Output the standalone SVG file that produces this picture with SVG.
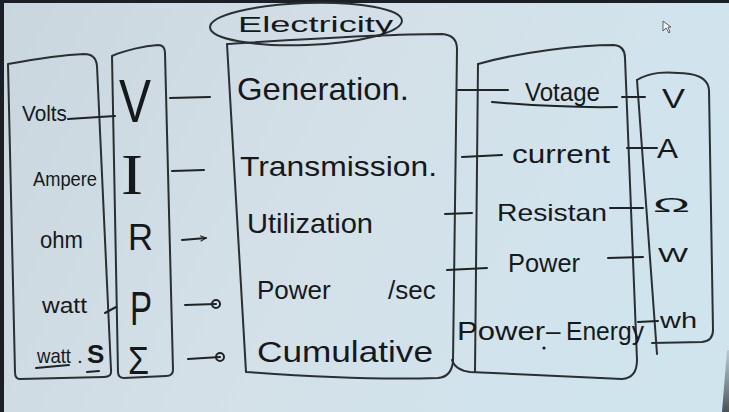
<svg xmlns="http://www.w3.org/2000/svg" width="729" height="412" viewBox="0 0 729 412">
  <defs>
    <linearGradient id="board" x1="0" y1="0" x2="1" y2="0.3">
      <stop offset="0" stop-color="#c9d6dd"/>
      <stop offset="0.5" stop-color="#d4e0e7"/>
      <stop offset="1" stop-color="#d0e4ee"/>
    </linearGradient>
    <linearGradient id="edge" x1="0" y1="0" x2="0" y2="1">
      <stop offset="0" stop-color="#5a6066" stop-opacity="0.2"/>
      <stop offset="1" stop-color="#3a4046" stop-opacity="0.9"/>
    </linearGradient>
    <marker id="arr" viewBox="0 0 10 10" refX="9" refY="5" markerWidth="7" markerHeight="7" orient="auto" markerUnits="userSpaceOnUse">
      <path d="M1,1 L9,5 L1,9" fill="none" stroke="#22272a" stroke-width="1.6"/>
    </marker>
    <style>
      .box { fill: none; stroke: #2a2f33; stroke-width: 2; stroke-linecap: round; stroke-linejoin: round; }
      .ln { fill: none; stroke: #1e2326; stroke-width: 2; stroke-linecap: round; }
      .t { font-family: "Liberation Sans", "DejaVu Sans", sans-serif; fill: #16191c; }
      .s { font-family: "Liberation Serif", "DejaVu Serif", serif; fill: #16191c; }
    </style>
  </defs>

  <rect x="0" y="0" width="729" height="412" fill="url(#board)"/>
  <rect x="0" y="0" width="729" height="3" fill="#1b2026"/>
  <rect x="0" y="0" width="4" height="412" fill="#1b2026"/>
  <polygon points="727,350 729,350 729,412 722,412" fill="url(#edge)"/>
  <path d="M663,21 L663,31 L666,28 L669,33 L670,32 L668,27 L671,27 Z" fill="#eef3f6" stroke="#3a3f44" stroke-width="0.8"/>

  <!-- Units box -->
  <g id="units">
    <path class="box" d="M8,64 C30,60 60,55 84,54 Q96,54 97,66 L111,370 Q112,377 104,377 L20,379 Q15,379 15,372 Z"/>
    <text class="t" x="22" y="121" font-size="22" textLength="45" lengthAdjust="spacingAndGlyphs">Volts</text>
    <text class="t" x="33" y="186" font-size="20" textLength="64" lengthAdjust="spacingAndGlyphs">Ampere</text>
    <text class="t" x="40" y="248" font-size="24" textLength="43" lengthAdjust="spacingAndGlyphs">ohm</text>
    <text class="t" x="42" y="313" font-size="22" textLength="45" lengthAdjust="spacingAndGlyphs">watt</text>
    <text class="t" x="37" y="363" font-size="21"><tspan textLength="34" lengthAdjust="spacingAndGlyphs">watt</tspan><tspan x="77">.</tspan><tspan x="87" font-size="26" font-weight="bold">S</tspan></text>
    <line class="ln" x1="36" y1="368" x2="69" y2="365"/>
    <line class="ln" x1="87" y1="372" x2="99" y2="371"/>
  </g>

  <!-- Symbols box -->
  <g id="symbols">
    <path class="box" d="M112,56 C125,50 145,46 158,45 Q165,45 165,53 L173,370 Q173,376 166,376 L124,378 Q118,378 118,372 Z"/>
    <text class="t" x="119" y="122" font-size="62" textLength="32" lengthAdjust="spacingAndGlyphs">V</text>
    <text class="s" x="121" y="194" font-size="56" textLength="22" lengthAdjust="spacingAndGlyphs">I</text>
    <text class="t" x="128" y="250" font-size="36" textLength="25" lengthAdjust="spacingAndGlyphs">R</text>
    <text class="t" x="130" y="325" font-size="48" textLength="22" lengthAdjust="spacingAndGlyphs">P</text>
    <text class="t" x="128" y="374" font-size="38" textLength="21" lengthAdjust="spacingAndGlyphs">Σ</text>
  </g>

  <!-- Title -->
  <g id="title">
    <ellipse class="box" cx="306" cy="24" rx="96" ry="21" transform="rotate(-2 306 24)"/>
    <text class="t" x="238" y="32" font-size="22" textLength="155" lengthAdjust="spacingAndGlyphs">Electricity</text>
  </g>

  <!-- Electricity box -->
  <g id="electricity">
    <path class="box" d="M227,44 C290,40 380,34 442,34 Q457,35 457,49 L453,362 Q451,377 438,378 C380,380 300,376 246,372 Z"/>
    <text class="t" x="237" y="100" font-size="32" textLength="172" lengthAdjust="spacingAndGlyphs">Generation.</text>
    <text class="t" x="240" y="176" font-size="28" textLength="197" lengthAdjust="spacingAndGlyphs">Transmission.</text>
    <text class="t" x="247" y="233" font-size="28" textLength="126" lengthAdjust="spacingAndGlyphs">Utilization</text>
    <text class="t" y="299" font-size="26"><tspan x="257">Power</tspan><tspan x="388">/sec</tspan></text>
    <text class="t" x="257" y="362" font-size="30" textLength="176" lengthAdjust="spacingAndGlyphs">Cumulative</text>
  </g>

  <!-- Quantities box -->
  <g id="quantities">
    <path class="box" d="M478,64 C520,52 580,45 614,45 Q625,46 625,58 L637,360 Q637,378 622,379 L470,372 Q455,370 452,360"/>
    <line class="box" x1="478" y1="64" x2="475" y2="372"/>
    <text class="t" x="525" y="101" font-size="26" textLength="75" lengthAdjust="spacingAndGlyphs">Votage</text>
    <path class="ln" d="M492,102 Q560,108 617,107"/>
    <text class="t" x="512" y="163" font-size="26" textLength="98" lengthAdjust="spacingAndGlyphs">current</text>
    <text class="t" x="497" y="221" font-size="24" textLength="110" lengthAdjust="spacingAndGlyphs">Resistan</text>
    <text class="t" x="508" y="272" font-size="26" textLength="72" lengthAdjust="spacingAndGlyphs">Power</text>
    <text class="t" y="340" font-size="26"><tspan x="457" textLength="88" lengthAdjust="spacingAndGlyphs">Power</tspan><tspan x="546">–</tspan><tspan x="566" textLength="78" lengthAdjust="spacingAndGlyphs">Energy</tspan></text>
    <circle cx="544" cy="348" r="1.6" fill="#16191c"/>
  </g>

  <!-- Unit symbols box -->
  <g id="unit-symbols">
    <path class="box" d="M637,80 C650,72 665,71 690,74 Q708,77 709,90 L713,330 Q713,341 702,342 L652,343"/>
    <line class="box" x1="637" y1="80" x2="657" y2="354"/>
    <text class="t" x="662" y="108" font-size="28" textLength="23" lengthAdjust="spacingAndGlyphs">V</text>
    <text class="t" x="657" y="158" font-size="28" textLength="21" lengthAdjust="spacingAndGlyphs">A</text>
    <text class="t" x="653" y="212" font-size="21" textLength="37" lengthAdjust="spacingAndGlyphs">Ω</text>
    <text class="t" x="658" y="262" font-size="21" textLength="30" lengthAdjust="spacingAndGlyphs">W</text>
    <text class="t" x="660" y="328" font-size="22" textLength="37" lengthAdjust="spacingAndGlyphs">wh</text>
  </g>

  <!-- Connectors -->
  <g id="connectors">
    <line class="ln" x1="68" y1="119" x2="115" y2="116"/>
    <line class="ln" x1="105" y1="313" x2="116" y2="307"/>
    <line class="ln" x1="170" y1="98" x2="210" y2="97"/>
    <line class="ln" x1="172" y1="171" x2="204" y2="170"/>
    <line class="ln" x1="182" y1="240" x2="206" y2="238" marker-end="url(#arr)"/>
    <line class="ln" x1="185" y1="305" x2="216" y2="304"/>
    <circle class="ln" cx="216" cy="304" r="4"/>
    <line class="ln" x1="188" y1="359" x2="220" y2="357"/>
    <circle class="ln" cx="220" cy="357" r="4"/>

    <line class="ln" x1="458" y1="90" x2="508" y2="90"/>
    <line class="ln" x1="462" y1="157" x2="502" y2="155"/>
    <line class="ln" x1="445" y1="214" x2="472" y2="213"/>
    <line class="ln" x1="447" y1="270" x2="487" y2="268"/>

    <line class="ln" x1="622" y1="97" x2="645" y2="97"/>
    <line class="ln" x1="627" y1="148" x2="657" y2="148"/>
    <line class="ln" x1="610" y1="208" x2="643" y2="208"/>
    <line class="ln" x1="608" y1="258" x2="643" y2="257"/>
    <line class="ln" x1="638" y1="322" x2="658" y2="321"/>
  </g>
</svg>
